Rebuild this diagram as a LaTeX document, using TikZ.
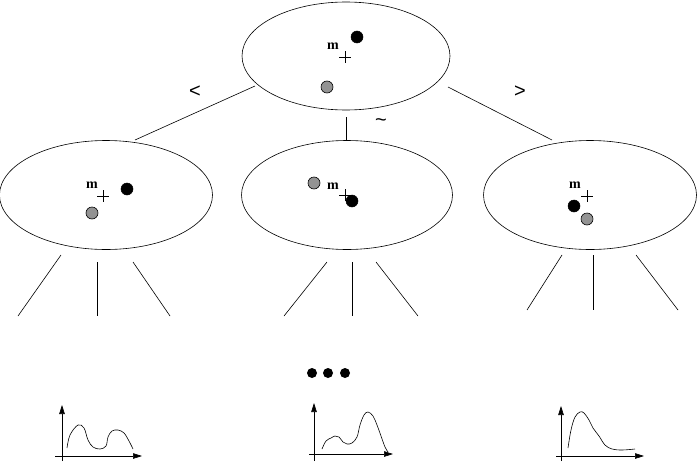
\documentclass[tikz,border=0pt]{standalone}
\usepackage{fontspec}
\setmainfont{Liberation Serif}
\newfontfamily\lsans{Liberation Sans}
\usetikzlibrary{shapes.geometric,arrows.meta,calc}
\tikzset{
  el/.style={ellipse, draw, line width=0.6pt, inner sep=0pt},
  bdot/.style={circle, draw, fill=black, minimum size=12pt, inner sep=0pt, line width=0.5pt},
  gdot/.style={circle, draw, fill=gray!85, minimum size=12pt, inner sep=0pt, line width=0.6pt},
  mlab/.style={font=\fontsize{14}{15}\selectfont\bfseries, inner sep=0pt},
  conn/.style={line width=0.6pt},
  axis/.style={line width=0.6pt, -{Triangle[length=9pt,width=5.5pt]}},
  curve/.style={line width=0.6pt},
  sym/.style={font=\lsans\fontsize{20}{22}\selectfont, inner sep=0pt},
  edot/.style={circle, fill=black, minimum size=10pt, inner sep=0pt}
}
\newcommand{\mycross}[1]{\draw[line width=0.6pt] ($(#1)+(-6,0)$) -- ($(#1)+(6,0)$) ($(#1)+(0,-6)$) -- ($(#1)+(0,6)$);}
\begin{document}
\begin{tikzpicture}[x=1pt,y=-1pt]
\useasboundingbox (0,0) rectangle (700,463);
% ellipses
\node[el, minimum width=208pt, minimum height=108pt] (T) at (346,56) {};
\node[el, minimum width=213pt, minimum height=109pt] (L) at (106,195) {};
\node[el, minimum width=211pt, minimum height=109pt] (M) at (347,195) {};
\node[el, minimum width=213pt, minimum height=109pt] (R) at (590,195) {};
% top contents
\node[mlab] (tm) at (333,46) {m};
\coordinate (tc) at (345,57); \mycross{tc}
\node[bdot] (tb) at (357,37) {};
\node[gdot] (tg) at (327,87) {};
% left contents
\node[mlab] (lm) at (92,185) {m};
\coordinate (lc) at (103,196); \mycross{lc}
\node[bdot] (lb) at (127,189) {};
\node[gdot] (lg) at (92,213) {};
% middle contents
\node[gdot] (mg) at (314,183) {};
\node[mlab] (mm) at (333,186) {m};
\coordinate (mc) at (345,195); \mycross{mc}
\node[bdot] (mb) at (352,201) {};
% right contents
\node[mlab] (rm) at (575,185) {m};
\coordinate (rc) at (587,196); \mycross{rc}
\node[bdot] (rb) at (574,206) {};
\node[gdot] (rg) at (587,219) {};
% connectors between ellipses
\coordinate (tl1) at (255,86); \coordinate (tl2) at (135,140);
\coordinate (tr1) at (448,87); \coordinate (tr2) at (552,140);
\coordinate (tm1) at (346,117); \coordinate (tm2) at (346,140);
\draw[conn] (tl1) -- (tl2);
\draw[conn] (tr1) -- (tr2);
\draw[conn] (tm1) -- (tm2);
\node[sym] (lt) at (195,92) {<};
\node[sym] (gt) at (520,92) {>};
\node[font=\lsans\fontsize{20}{21}\selectfont, inner sep=0pt] (sim) at (381,123) {\char`\~};
% branches
\coordinate (la1) at (61,255); \coordinate (la2) at (18,316);
\coordinate (lb1) at (97,262); \coordinate (lb2) at (97,316);
\coordinate (lc1) at (133,262); \coordinate (lc2) at (170,316);
\coordinate (ma1) at (327,262); \coordinate (ma2) at (284,316);
\coordinate (mb1) at (352,262); \coordinate (mb2) at (352,316);
\coordinate (mc1) at (376,262); \coordinate (mc2) at (418,316);
\coordinate (ra1) at (562,255); \coordinate (ra2) at (527,310);
\coordinate (rb1) at (593,255); \coordinate (rb2) at (593,310);
\coordinate (rc1) at (636,255); \coordinate (rc2) at (678,310);
\foreach \a/\b in {la1/la2,lb1/lb2,lc1/lc2,ma1/ma2,mb1/mb2,mc1/mc2,ra1/ra2,rb1/rb2,rc1/rc2}
  \draw[conn] (\a) -- (\b);
% ellipsis dots
\node[edot] (d1) at (312,373) {};
\node[edot] (d2) at (328,373) {};
\node[edot] (d3) at (345,373) {};
% plot 1
\coordinate (p1y0) at (62,461); \coordinate (p1y1) at (62,405);
\coordinate (p1x0) at (55,456); \coordinate (p1x1) at (142,456);
\draw[axis] (p1y0) -- (p1y1);
\draw[axis] (p1x0) -- (p1x1);
\draw[curve] plot[smooth, tension=0.6] coordinates {(67,448) (70,435) (78,425) (84,428) (88,440) (93,447) (100,449) (106,446) (108,437) (112,431) (118,430) (124,433) (129,441) (133,449)};
% plot 2
\coordinate (p2y0) at (314,461); \coordinate (p2y1) at (314,403);
\coordinate (p2x0) at (309,454); \coordinate (p2x1) at (393,454);
\draw[axis] (p2y0) -- (p2y1);
\draw[axis] (p2x0) -- (p2x1);
\draw[curve] plot[smooth, tension=0.6] coordinates {(322,449) (326,441) (331,438) (335,436) (339,437) (343,442) (347,444) (352,443) (357,437) (360,425) (364,415) (368,412) (373,416) (377,425) (381,436) (385,447) (388,452)};
% plot 3
\coordinate (p3y0) at (561,461); \coordinate (p3y1) at (561,406);
\coordinate (p3x0) at (556,456); \coordinate (p3x1) at (644,456);
\draw[axis] (p3y0) -- (p3y1);
\draw[axis] (p3x0) -- (p3x1);
\draw[curve] plot[smooth, tension=0.6] coordinates {(568,448) (571,430) (575,417) (580,412) (584,413) (589,420) (593,428) (599,436) (605,445) (612,449) (622,450) (635,449)};
\end{tikzpicture}
\end{document}
